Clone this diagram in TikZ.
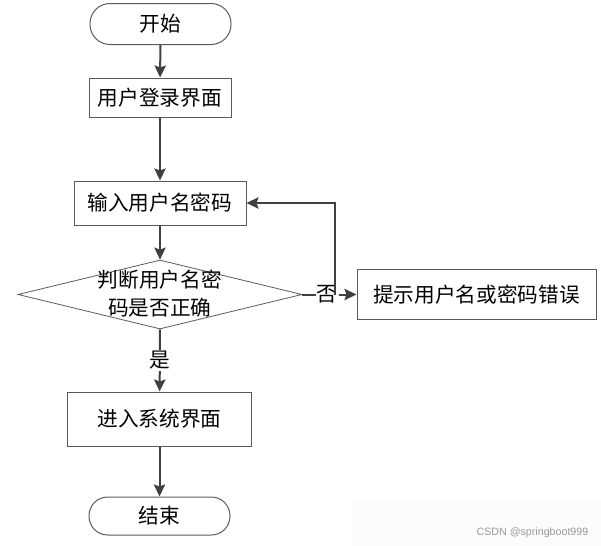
\documentclass[tikz,border=0pt]{standalone}
\usepackage{fontspec}
\setmainfont{Noto Sans CJK SC}
\newfontfamily\wmfont{Liberation Sans}
\usetikzlibrary{shapes.geometric,arrows.meta}
\definecolor{lineclr}{HTML}{404040}
\definecolor{boxclr}{HTML}{5A5A5A}
\tikzset{
  every node/.style={font=\fontsize{15.5}{21}\selectfont, text=black},
  procbox/.style={draw=boxclr, line width=0.75pt, rectangle, inner sep=0pt},
  termbox/.style={draw=boxclr, line width=0.75pt, rectangle, inner sep=0pt},
  decbox/.style={draw=boxclr, line width=0.6pt, diamond, inner sep=0pt},
  flowarrow/.style={draw=lineclr, line width=1.5pt, -{Stealth[length=9pt,width=8.5pt,inset=1.5pt]}},
  edgelabel/.style={fill=white, inner sep=1pt}
}
\begin{document}
\begin{tikzpicture}[x=0.75pt,y=-0.75pt]
\useasboundingbox (0,0) rectangle (601,546);
\fill[black!1] (352,500) rectangle (601,546);
\node[font=\wmfont\fontsize{8}{9}\selectfont, text=black!40, anchor=east] (wm) at (593,533) {CSDN @springboot999};

\node[termbox, rounded corners=15pt, minimum width=105.75pt, minimum height=30.75pt] (start) at (160.5,24) {开始};
\node[procbox, minimum width=106.5pt, minimum height=29.25pt] (login) at (160,97.5) {用户登录界面};
\node[procbox, minimum width=129pt, minimum height=33pt] (input) at (160,203) {输入用户名密码};
\node[decbox, minimum width=213pt, minimum height=51.75pt] (judge) at (160,294.5) {};
\node[align=center] (judgetext) at (160,294) {判断用户名密\\码是否正确};
\node[procbox, minimum width=179.25pt, minimum height=37.5pt] (tip) at (476.5,294.5) {提示用户名或密码错误};
\node[procbox, minimum width=138pt, minimum height=40.5pt] (enter) at (159.5,419) {进入系统界面};
\node[termbox, rounded corners=14pt, minimum width=105.75pt, minimum height=28.5pt] (end) at (159.5,516) {结束};

\draw[flowarrow] (start) -- (login);
\draw[flowarrow] (login) -- (input);
\draw[flowarrow] (input) -- (judge.north);
\draw[flowarrow] (judge.south) -- node[edgelabel, pos=0.5] (yes) {是} (enter);
\draw[flowarrow] (judge.east) -- node[edgelabel, pos=0.46] (no) {否} (tip.west);
\coordinate (fb) at (335,294.5);
\draw[flowarrow] (fb) |- (input.east);
\draw[flowarrow] (enter) -- (end);
\end{tikzpicture}
\end{document}
